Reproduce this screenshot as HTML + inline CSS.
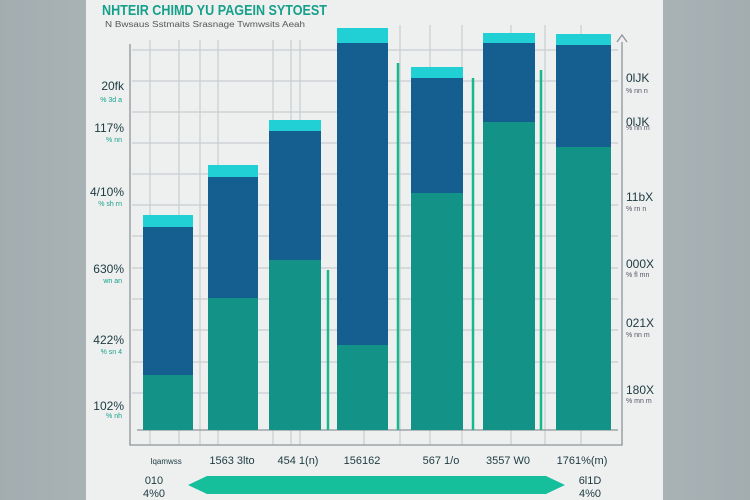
<!DOCTYPE html>
<html><head><style>
body{margin:0;width:750px;height:500px;overflow:hidden;background:linear-gradient(90deg,#a3adb0,#bcc4c6 50%,#a3adb0);font-family:"Liberation Sans",sans-serif}
</style></head><body>
<svg width="750" height="500" style="position:absolute;left:0;top:0">
<rect x="86" y="0" width="577" height="500" fill="#eef0f0"/>
<g stroke="#c9cdcf" stroke-width="1.2">
<line x1="132" y1="50" x2="618" y2="50"/><line x1="132" y1="81" x2="618" y2="81"/><line x1="132" y1="112" x2="618" y2="112"/><line x1="132" y1="143" x2="618" y2="143"/><line x1="132" y1="174" x2="618" y2="174"/><line x1="132" y1="205" x2="618" y2="205"/><line x1="132" y1="236" x2="618" y2="236"/><line x1="132" y1="268" x2="618" y2="268"/><line x1="132" y1="299" x2="618" y2="299"/><line x1="132" y1="330" x2="618" y2="330"/><line x1="132" y1="362" x2="618" y2="362"/><line x1="132" y1="393" x2="618" y2="393"/>
<line x1="150" y1="40" x2="150" y2="445"/><line x1="179" y1="40" x2="179" y2="445"/><line x1="200" y1="40" x2="200" y2="445"/><line x1="218" y1="40" x2="218" y2="445"/><line x1="273" y1="40" x2="273" y2="445"/><line x1="291" y1="40" x2="291" y2="445"/><line x1="300" y1="40" x2="300" y2="445"/><line x1="364" y1="40" x2="364" y2="445"/><line x1="400" y1="25" x2="400" y2="445"/><line x1="430" y1="25" x2="430" y2="445"/><line x1="462" y1="25" x2="462" y2="445"/><line x1="511" y1="25" x2="511" y2="445"/><line x1="545" y1="25" x2="545" y2="445"/><line x1="581" y1="25" x2="581" y2="445"/>
</g>
<g stroke="#8e9598" stroke-width="1.3" fill="none">
<polyline points="130,44 130,445 622,445 622,42"/>
<polyline points="617,42 622,35 627,42"/>
<line x1="137" y1="430" x2="618" y2="430"/>
</g>
<g>
<rect x="143" y="215" width="50" height="12" fill="#20d0d4"/><rect x="143" y="227" width="50" height="148" fill="#145f8f"/><rect x="143" y="375" width="50" height="55" fill="#139388"/>
<rect x="208" y="165" width="50" height="12" fill="#20d0d4"/><rect x="208" y="177" width="50" height="121" fill="#145f8f"/><rect x="208" y="298" width="50" height="132" fill="#139388"/>
<rect x="269" y="120" width="52" height="11" fill="#20d0d4"/><rect x="269" y="131" width="52" height="129" fill="#145f8f"/><rect x="269" y="260" width="52" height="170" fill="#139388"/>
<rect x="337" y="28" width="51" height="15" fill="#20d0d4"/><rect x="337" y="43" width="51" height="302" fill="#145f8f"/><rect x="337" y="345" width="51" height="85" fill="#139388"/>
<rect x="411" y="67" width="52" height="11" fill="#20d0d4"/><rect x="411" y="78" width="52" height="115" fill="#145f8f"/><rect x="411" y="193" width="52" height="237" fill="#139388"/>
<rect x="483" y="33" width="52" height="10" fill="#20d0d4"/><rect x="483" y="43" width="52" height="79" fill="#145f8f"/><rect x="483" y="122" width="52" height="308" fill="#139388"/>
<rect x="556" y="34" width="55" height="11" fill="#20d0d4"/><rect x="556" y="45" width="55" height="102" fill="#145f8f"/><rect x="556" y="147" width="55" height="283" fill="#139388"/>
</g>
<g stroke="#17b890" stroke-width="2.5">
<line x1="328" y1="270" x2="328" y2="430"/><line x1="398" y1="63" x2="398" y2="430"/><line x1="473" y1="78" x2="473" y2="430"/><line x1="541" y1="70" x2="541" y2="430"/>
</g>
<polygon points="188,485 207,476 546,476 565,485 546,494 207,494" fill="#15bf9c"/>
<g font-size="15" fill="#16a08a" font-weight="bold">
<text x="102" y="15" textLength="225" lengthAdjust="spacingAndGlyphs">NHTEIR CHIMD YU PAGEIN SYTOEST</text>
</g>
<text x="105" y="27" font-size="8" fill="#555" textLength="200" lengthAdjust="spacingAndGlyphs">N Bwsaus Sstmaits Srasnage Twmwsits Aeah</text>
<g font-size="12" fill="#1d3a40" text-anchor="end">
<text x="124" y="90">20fk</text><text x="124" y="132">117%</text><text x="124" y="196">4/10%</text><text x="124" y="273">630%</text><text x="124" y="344">422%</text><text x="124" y="410">102%</text>
</g>
<g font-size="7" fill="#16a08a" text-anchor="end">
<text x="122" y="102">% 3d a</text><text x="122" y="142">% nn</text><text x="122" y="206">% sh rn</text><text x="122" y="283">wn an</text><text x="122" y="354">% sn 4</text><text x="122" y="418">% nh</text>
</g>
<g font-size="12" fill="#1d3a40">
<text x="626" y="82">0lJK</text><text x="626" y="126">0lJK</text><text x="626" y="201">11bX</text><text x="626" y="268">000X</text><text x="626" y="327">021X</text><text x="626" y="394">180X</text>
</g>
<g font-size="7" fill="#556">
<text x="626" y="93">% nn n</text><text x="626" y="130">% nn m</text><text x="626" y="211">% rn n</text><text x="626" y="277">% fl mn</text><text x="626" y="337">% nn m</text><text x="626" y="403">% mn m</text>
</g>
<g font-size="11" fill="#1d3a40" text-anchor="middle">
<text x="166" y="464" font-size="8">Iqamwss</text><text x="232" y="464">1563 3lto</text><text x="298" y="464">454 1(n)</text><text x="362" y="464">156162</text><text x="441" y="464">567 1/o</text><text x="508" y="464">3557 W0</text><text x="582" y="464">1761%(m)</text>
</g>
<g font-size="11" fill="#1d3a40" text-anchor="middle">
<text x="154" y="484">010</text><text x="154" y="497">4%0</text><text x="590" y="484">6l1D</text><text x="590" y="497">4%0</text>
</g>
</svg>
</body></html>
